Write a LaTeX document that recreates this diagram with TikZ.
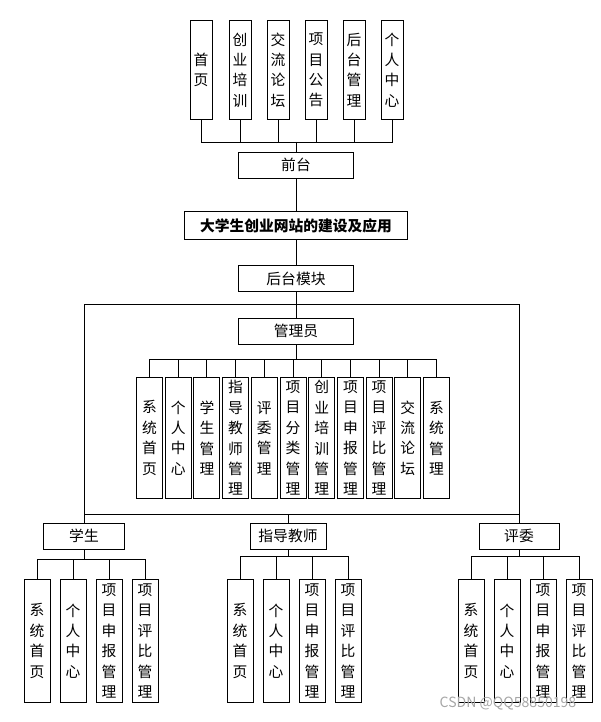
\documentclass[tikz,border=0pt]{standalone}
\usepackage{fontspec}
\setmainfont{Noto Sans CJK SC}
\usetikzlibrary{positioning}

\begin{document}
\begin{tikzpicture}[
    x=0.025cm, y=-0.025cm,
    hbox/.style={rectangle, draw, line width=0.7pt, minimum width=2.85cm,
                 minimum height=0.65cm, inner sep=1pt, font=\fontsize{10.5}{13}\selectfont},
    vbox/.style={rectangle, draw, line width=0.7pt, minimum width=0.65cm,
                 minimum height=3.0cm, inner sep=1pt, align=center,
                 font=\fontsize{10.5}{14.5}\selectfont},
    topbox/.style={vbox, minimum width=0.55cm, minimum height=2.45cm},
    subbox/.style={vbox, minimum height=3.05cm},
    role/.style={hbox, minimum width=2.0cm},
    wire/.style={line width=0.6pt}
  ]
  \useasboundingbox (0,0) rectangle (600,722);

  % ---- Front pages ----
  \node[topbox] (t1) at (201,70) {首\\页};
  \node[topbox] (t2) at (240,70) {创\\业\\培\\训};
  \node[topbox] (t3) at (278,70) {交\\流\\论\\坛};
  \node[topbox] (t4) at (316,70) {项\\目\\公\\告};
  \node[topbox] (t5) at (354,70) {后\\台\\管\\理};
  \node[topbox] (t6) at (392,70) {个\\人\\中\\心};
  \node[hbox] (front) at (296,165) {前台};
  \coordinate (tb) at (296,142);
  \foreach \i in {1,...,6}
    \draw[wire] (t\i.south) |- (tb);
  \draw[wire] (tb) -- (front.north);

  % ---- Spine ----
  \node[hbox, minimum width=5.55cm, minimum height=0.68cm,
        font=\fontsize{10.5}{13}\selectfont\bfseries] (site) at (296,225.5)
    {大学生创业网站的建设及应用};
  \node[hbox] (back) at (296,278.5) {后台模块};
  \draw[wire] (front) -- (site);
  \draw[wire] (site) -- (back);

  % ---- Admin ----
  \draw[wire] (84,514) -- (84,304) -- (519,304) -- (519,514) -- cycle;
  \node[hbox, fill=white] (admin) at (296,331) {管理员};
  \draw[wire] (back) -- (admin);
  \coordinate (ab) at (296,359);
  \draw[wire] (admin) -- (ab);
  \foreach \i/\txt in {0/系\\统\\首\\页, 1/个\\人\\中\\心, 2/学\\生\\管\\理,
      3/指\\导\\教\\师\\管\\理, 4/评\\委\\管\\理, 5/项\\目\\分\\类\\管\\理,
      6/创\\业\\培\\训\\管\\理, 7/项\\目\\申\\报\\管\\理, 8/项\\目\\评\\比\\管\\理,
      9/交\\流\\论\\坛, 10/系\\统\\管\\理} {
    \node[vbox] (a\i) at ({149.5+28.7*\i},438) {\txt};
    \draw[wire] (a\i.north) |- (ab);
  }

  % ---- Roles ----
  \coordinate (rb) at (288,514);
  \node[role] (stu) at (84,536) {学生};
  \node[role, minimum width=1.9cm] (tea) at (288,536) {指导教师};
  \node[role] (jud) at (519,536) {评委};
  \draw[wire] (84,514) -- (stu.north);
  \draw[wire] (rb) -- (tea.north);
  \draw[wire] (519,514) -- (jud.north);

  % ---- Role pages ----
  \foreach \r/\bx/\by in {stu/37/559, tea/240/556, jud/471/556} {
    \coordinate (\r b) at (\bx+0.5*0,\by);
    \foreach \i/\txt in {0/系\\统\\首\\页, 1/个\\人\\中\\心,
        2/项\\目\\申\\报\\管\\理, 3/项\\目\\评\\比\\管\\理} {
      \node[subbox] (\r\i) at ({\bx+36*\i},641) {\txt};
      \draw[wire] (\r\i.north) -- (\bx+36*\i,\by);
    }
    \draw[wire] (\r0.north |- \r b) -- (\r3.north |- \r b);
    \draw[wire] (\r.south) -- (\r.south |- \r b);
  }

  \node[font=\fontsize{10}{12}\selectfont, text=black!35] (mark) at (508,704)
    {CSDN @QQ58850198};
\end{tikzpicture}
\end{document}
